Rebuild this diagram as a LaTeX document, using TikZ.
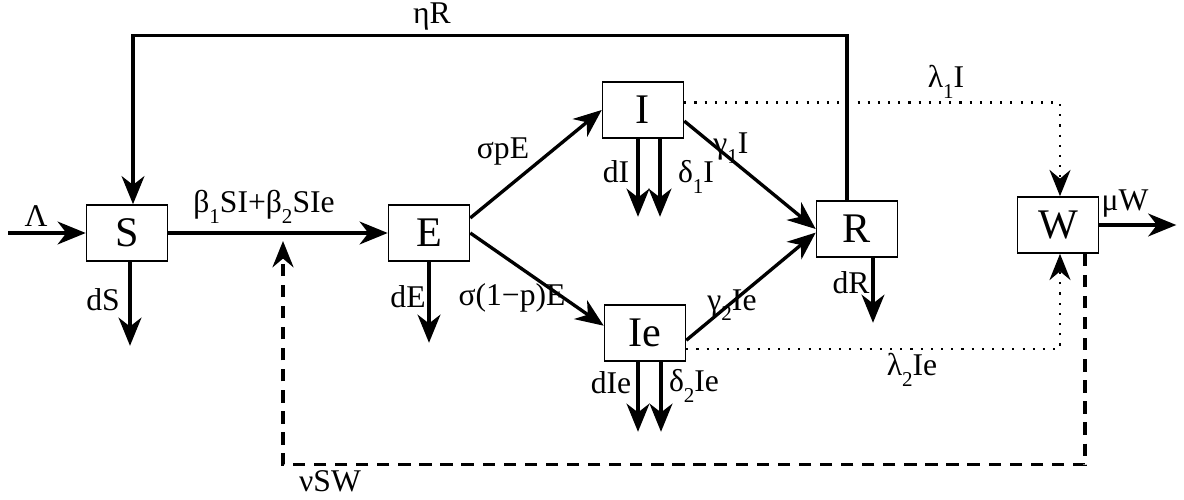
\documentclass[tikz,border=0pt]{standalone}
\usepackage{fontspec}
\setmainfont{Liberation Serif}
\usetikzlibrary{arrows.meta,calc}

\newcommand{\dn}[1]{\raisebox{-6pt}{\fontsize{12}{12}\selectfont #1}}

\tikzset{
  box/.style={draw, line width=0.9pt, minimum width=1.62cm, minimum height=1.12cm, inner sep=0pt, font=\fontsize{24}{24}\selectfont},
  flow/.style={line width=1.9pt, -{Stealth[length=16pt,width=13pt,inset=5pt]}},
  leak/.style={line width=1.4pt, dash pattern=on 1.2pt off 4.6pt, -{Stealth[length=15pt,width=12pt,inset=5pt]}},
  back/.style={line width=1.8pt, dash pattern=on 7pt off 5pt, -{Stealth[length=15pt,width=12pt,inset=5pt]}},
  lbl/.style={inner sep=0pt, font=\fontsize{18}{18}\selectfont}
}

\begin{document}
\begin{tikzpicture}[x=0.02cm, y=-0.02cm]

    \useasboundingbox (0,0) rectangle (1184,500);

    % compartments
    \node[box] (S) at (127,233) {S};
    \node[box] (E) at (429,233) {E};
    \node[box] (I) at (643,110) {I};
    \node[box] (Ie) at (645,333) {Ie};
    \node[box] (R) at (857,229) {R};
    \node[box] (W) at (1058,225) {W};

    \coordinate (in) at (8,233);
    \coordinate (mix) at (283,241);

    % main flows
    \draw[flow] (in) -- (S.west);
    \draw[flow] (S.east) -- (E.west);
    \draw[flow] (E.20) -- (I.west);
    \draw[flow] (E.east) -- (Ie.170);
    \draw[flow] (I.-15) -- (R.west);
    \draw[flow] (Ie.-10) -- (R.185);
    \draw[flow] (W.east) -- ++(77,0);
    \draw[flow] ($(R.north)+(-10,0)$) -- ++(0,-165) -| ($(S.north)+(6,0)$);

    % deaths
    \draw[flow] ($(S.south)+(3,0)$) -- ++(0,84);
    \draw[flow] (E.south) -- ++(0,81);
    \draw[flow] ($(I.south)+(-5,0)$) -- ++(0,78);
    \draw[flow] ($(I.south)+(17,0)$) -- ++(0,78);
    \draw[flow] ($(Ie.south)+(-7,0)$) -- ++(0,70);
    \draw[flow] ($(Ie.south)+(16,0)$) -- ++(0,70);
    \draw[flow] ($(R.south)+(16,0)$) -- ++(0,65);

    % shedding and environment
    \draw[leak] (I.10) -| ($(W.north)+(2,0)$);
    \draw[leak] (Ie.-21) -| ($(W.south)+(2,0)$);
    \draw[back] ($(W.south)+(27,0)$) -- ++(0,211) -| (mix);

    % rates
    \node[lbl] (lLam) at (36,216) {Λ};
    \node[lbl] (lInf) at (264,207) {β\dn{1}SI+β\dn{2}SIe};
    \node[lbl] (lEta) at (432,17) {ηR};
    \node[lbl] (ldS) at (103,300) {dS};
    \node[lbl] (ldE) at (408,297) {dE};
    \node[lbl] (lsp) at (503,152) {σpE};
    \node[lbl] (lsq) at (512,298) {σ(1−p)E};
    \node[lbl] (ldI) at (616,172) {dI};
    \node[lbl] (ldelI) at (696,177) {δ\dn{1}I};
    \node[lbl] (lgamI) at (731,148) {γ\dn{1}I};
    \node[lbl] (lgamIe) at (732,305) {γ\dn{2}Ie};
    \node[lbl] (ldIe) at (611,383) {dIe};
    \node[lbl] (ldelIe) at (694,386) {δ\dn{2}Ie};
    \node[lbl] (ldR) at (851,283) {dR};
    \node[lbl] (llamI) at (946,82) {λ\dn{1}I};
    \node[lbl] (llamIe) at (912,370) {λ\dn{2}Ie};
    \node[lbl] (lmu) at (1125,204) {μW};
    \node[lbl] (lnu) at (330,481) {νSW};

\end{tikzpicture}
\end{document}
